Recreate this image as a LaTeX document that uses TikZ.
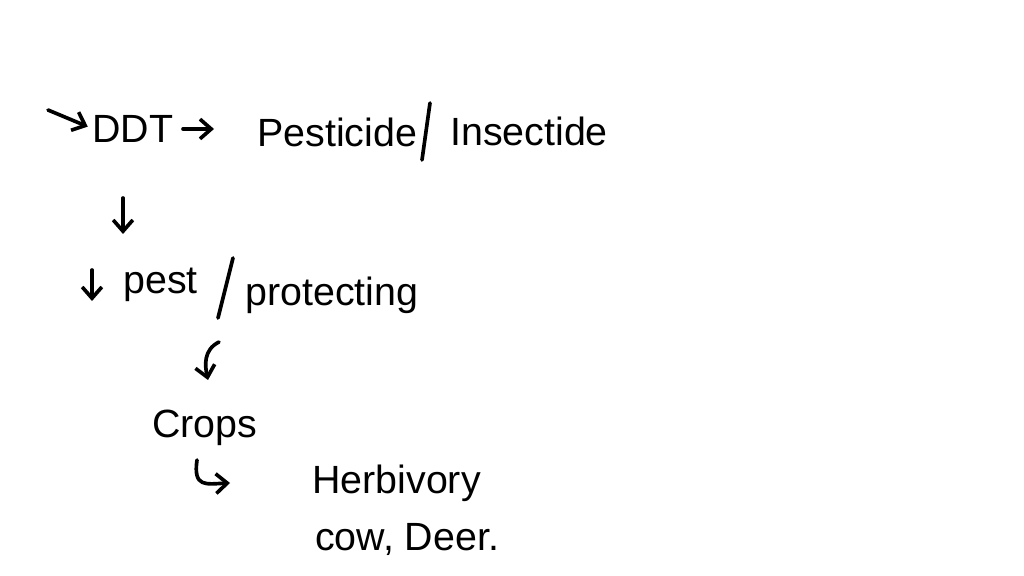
\documentclass[tikz,border=0pt]{standalone}
\usepackage{fontspec}
\setmainfont{Liberation Sans}
\usetikzlibrary{arrows.meta}

\tikzset{
  note/.style={anchor=base west,inner sep=0pt,font=\fontsize{28}{32}\selectfont},
  pen/.style={line width=2.6pt,line cap=round,line join=round},
  arr/.style={pen,-{Straight Barb[length=8pt,width=14pt,line width=2.6pt]}}
}

\begin{document}
\begin{tikzpicture}[x=0.025cm,y=-0.025cm]
\useasboundingbox (0,0) rectangle (1024,576);

% first line
\node[note] (ddt) at (92,143) {DDT};
\node[note] (pesticide) at (257,147) {Pesticide};
\node[note] (insectide) at (450,146) {Insectide};
\coordinate (s0) at (48,110);
\coordinate (s1) at (183,129);
\coordinate (s2) at (214,129);
\draw[arr] (s0) -- ([xshift=-3pt,yshift=2pt]ddt.west);
\draw[arr] (s1) -- (s2);
\draw[pen] (430,103) -- (422,160);

% second line
\coordinate (d0) at (123,198);
\coordinate (d1) at (123,234);
\draw[arr] (d0) -- (d1);
\node[note] (pest) at (123,294) {pest};
\node[note] (protecting) at (245,306) {protecting};
\coordinate (p0) at (92,270);
\coordinate (p1) at (92,301);
\draw[arr] (p0) -- (p1);
\draw[pen] (233,258) -- (218,318);

% crops
\node[note] (crops) at (152,437) {Crops};
\coordinate (c0) at (219,342);
\coordinate (c1) at (208,380);
\draw[arr] (c0) .. controls (203,350) and (205,366) .. (c1);

% herbivory
\node[note] (herb) at (312,493) {Herbivory};
\node[note] (cow) at (315,550) {cow, Deer.};
\coordinate (h0) at (197,460);
\coordinate (h1) at (230,483);
\draw[arr] (h0) .. controls (193,488) and (206,484) .. (h1);

\end{tikzpicture}
\end{document}
